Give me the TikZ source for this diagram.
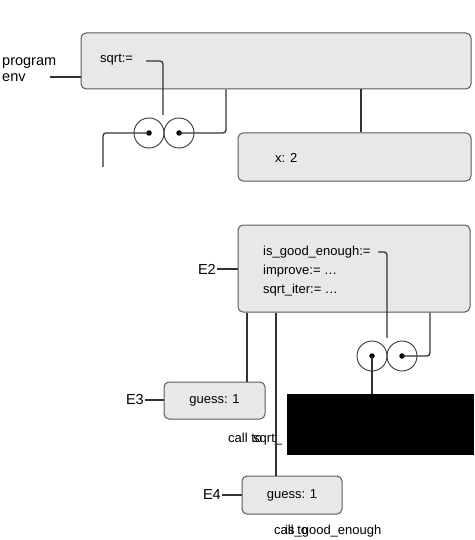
\documentclass[tikz,border=0pt]{standalone}
\usepackage{fontspec}
\setmainfont{Liberation Sans}
\definecolor{boxfill}{HTML}{E8E8E8}
\definecolor{boxline}{HTML}{5A5A5A}
\definecolor{wirecol}{HTML}{333333}
\tikzset{
	frame/.style={draw=boxline, fill=boxfill, rounded corners=5pt, line width=1pt, inner sep=0pt},
	wire/.style={draw=wirecol, line width=1.3pt, rounded corners=3pt},
	txt/.style={inner sep=0pt, anchor=west, font=\fontsize{13}{15}\selectfont},
	lbl/.style={inner sep=1pt, font=\fontsize{14.5}{16}\selectfont},
	ring/.style={draw=wirecol, circle, line width=0.9pt, minimum size=30pt, inner sep=0pt},
	dot/.style={fill=black, circle, minimum size=5.5pt, inner sep=0pt}
}
\begin{document}
\begin{tikzpicture}[x=1pt, y=-1pt]
	\useasboundingbox (0,0) rectangle (474,540);
	% program environment
	\node[frame, minimum width=390pt, minimum height=56pt] (prog) at (276,61) {};
	\node[txt] (sqrt) at (100,60) {sqrt:=};
	\node[lbl, anchor=west, align=left, inner sep=0pt] (progenv) at (2,70) {program\\env};
	\coordinate (envtip) at (50,77);
	\draw[wire] (envtip) -- (envtip -| prog.west);
	\node[frame, minimum width=233pt, minimum height=48pt] (xbox) at (354.5,157) {};
	\node[txt] (xval) at (275,158) {x: 2};
	\coordinate (progx) at (361,0);
	\draw[wire] (prog.south -| progx) -- (xbox.north -| progx);
	% procedure object of sqrt
	\node[ring] (c1l) at (149,133) {};
	\node[ring] (c1r) at (179,133) {};
	\node[dot] (d1l) at (c1l) {};
	\node[dot] (d1r) at (c1r) {};
	\coordinate (sqrtptr) at (146,61);
	\coordinate (sqrtend) at (163,115);
	\draw[wire] (sqrtptr) -| (sqrtend);
	\coordinate (codeend) at (103,167);
	\draw[wire] (d1l.center) -| (codeend);
	\coordinate (envup) at (226,0);
	\draw[wire] (d1r.center) -| (prog.south -| envup);
	% E2
	\node[frame, minimum width=232pt, minimum height=87pt] (e2) at (354,268.5) {};
	\node[txt] (goodenough) at (263,252) {is\_good\_enough:=};
	\node[txt] (improve) at (263,271) {improve:= …};
	\node[txt] (sqrtiter) at (263,290) {sqrt\_iter:= …};
	\node[lbl, anchor=east] (e2lbl) at (217,269) {E2};
	\draw[wire] (e2lbl.east) -- (e2.west |- e2lbl.east);
	% procedure object of is_good_enough
	\node[ring] (c2l) at (372,356) {};
	\node[ring] (c2r) at (402,356) {};
	\node[dot] (d2l) at (c2l) {};
	\node[dot] (d2r) at (c2r) {};
	\coordinate (goodptr) at (378,252);
	\coordinate (goodend) at (387,338);
	\draw[wire] (goodptr) -| (goodend);
	\coordinate (e2up) at (430,0);
	\draw[wire] (d2r.center) -| (e2.south -| e2up);
	\coordinate (codeend2) at (372,400);
	\draw[wire] (d2l.center) -- (codeend2);
	% E3
	\node[frame, minimum width=101pt, minimum height=37pt] (e3) at (214.5,400.5) {};
	\node[txt, anchor=center] (guess3) at (e3) {guess: 1};
	\node[lbl, anchor=east] (e3lbl) at (145,400) {E3};
	\draw[wire] (e3lbl.east) -- (e3.west |- e3lbl.east);
	\coordinate (e3link) at (247,0);
	\draw[wire] (e2.south -| e3link) -- (e3.north -| e3link);
	\node[txt, anchor=base west] (call3) at (228,442.5) {call to};
	\node[txt, anchor=base west] (call3b) at (253,442.5) {sqrt\_};
	% E4
	\node[frame, minimum width=100pt, minimum height=38pt] (e4) at (292,495) {};
	\node[txt, anchor=center] (guess4) at (e4) {guess: 1};
	\node[lbl, anchor=east] (e4lbl) at (222,495) {E4};
	\draw[wire] (e4lbl.east) -- (e4.west |- e4lbl.east);
	\coordinate (e4link) at (276,0);
	\draw[wire] (e2.south -| e4link) -- (e4.north -| e4link);
	\node[txt, anchor=base west] (call4) at (274,534.5) {call to};
	\node[txt, anchor=base west] (call4b) at (285,534.5) {is\_good\_enough};
	% hidden part
	\fill[black] (287,394) rectangle (474,455);
\end{tikzpicture}
\end{document}
